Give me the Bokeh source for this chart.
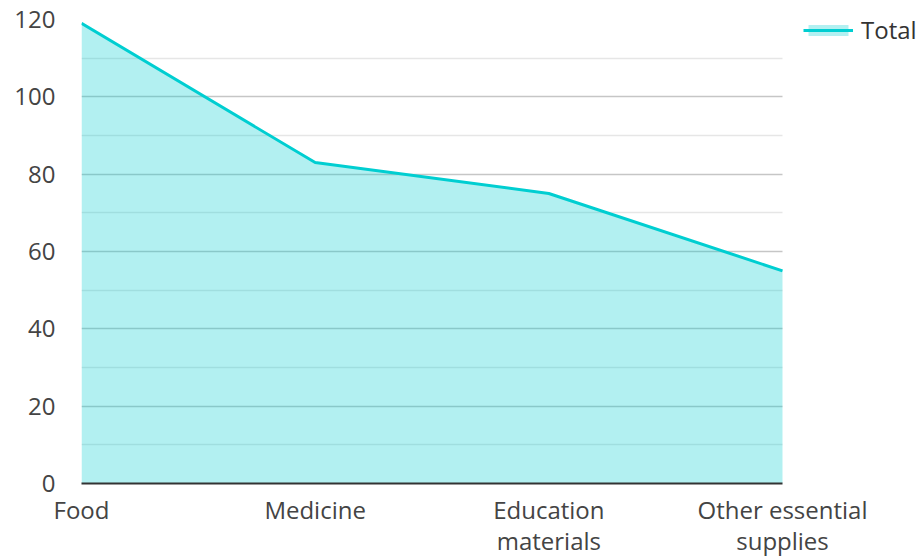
from bokeh.plotting import figure
from bokeh.models import Range1d, FixedTicker, Legend, LegendItem, ColumnDataSource
from bokeh.embed import file_html
from bokeh.resources import INLINE

categories = ["Food", "Medicine", "Education\nmaterials", "Other essential\nsupplies"]
totals = [119, 83, 75, 55]
y_ticks = [0, 20, 40, 60, 80, 100, 120]
y_minor = [10, 30, 50, 70, 90, 110]

xs = list(range(len(categories)))
x_last = len(categories) - 1
src = ColumnDataSource(dict(x=xs, y=totals, y0=[0] * len(xs)))

W, H = 922, 560
LEFT, TOP, BOTTOM = 81, 19, 75
PLOT_W = 701  # pixel width of the data area
x_end = x_last * (W - LEFT) / PLOT_W

p = figure(width=W, height=H, output_backend="svg", toolbar_location=None,
           x_range=Range1d(0, x_end), y_range=Range1d(0, 120),
           min_border_left=LEFT, min_border_right=0, min_border_top=TOP, min_border_bottom=BOTTOM)
p.outline_line_color = None

FONT = "Open Sans"
TXT = "#444444"
TEAL = "#00CED1"
MAJOR = "#c6c6c6"
MINOR = "#e6e6e6"

p.xgrid.grid_line_color = None
try:
    p.ygrid.cross_bounds = (0, x_last)
    p.ygrid.grid_line_color = MAJOR
    p.ygrid.grid_line_width = 1.5
    p.ygrid.minor_grid_line_color = MINOR
    p.ygrid.minor_grid_line_width = 1.5
except (AttributeError, ValueError):
    p.ygrid.grid_line_color = None
    p.segment(x0=[0] * len(y_minor), x1=[x_last] * len(y_minor), y0=y_minor, y1=y_minor,
              line_color=MINOR, line_width=1.5)
    p.segment(x0=[0] * len(y_ticks), x1=[x_last] * len(y_ticks), y0=y_ticks, y1=y_ticks,
              line_color=MAJOR, line_width=1.5)

area = p.varea(x="x", y1="y0", y2="y", source=src, fill_color=TEAL, fill_alpha=0.3)
line = p.line(x="x", y="y", source=src, line_color=TEAL, line_width=3)

p.xaxis.ticker = FixedTicker(ticks=xs)
p.xaxis.bounds = (0, x_last)
p.xaxis.major_label_overrides = {i: c for i, c in enumerate(categories)}
p.xaxis.major_tick_line_color = None
p.xaxis.minor_tick_line_color = None
p.xaxis.axis_line_color = "#333333"
p.xaxis.axis_line_width = 2
p.xaxis.major_label_text_font = FONT
p.xaxis.major_label_text_font_size = "24px"
p.xaxis.major_label_text_color = TXT
p.xaxis.major_label_text_line_height = 0.96
p.xaxis.major_label_standoff = 3

p.yaxis.ticker = FixedTicker(ticks=y_ticks, minor_ticks=y_minor)
p.yaxis.axis_line_color = None
p.yaxis.major_tick_line_color = None
p.yaxis.minor_tick_line_color = None
p.yaxis.major_label_text_font = FONT
p.yaxis.major_label_text_font_size = "24px"
p.yaxis.major_label_text_color = TXT
p.yaxis.major_label_standoff = 20

legend = Legend(items=[LegendItem(label="Total", renderers=[area, line])],
                location=(722, 437), orientation="vertical",
                label_text_font=FONT, label_text_font_size="24px", label_text_color="#333333",
                glyph_width=50, glyph_height=14, border_line_color=None,
                background_fill_alpha=0, padding=0, margin=0, spacing=0,
                label_standoff=8)
p.add_layout(legend)

open("out.html", "w").write(file_html(p, INLINE))
